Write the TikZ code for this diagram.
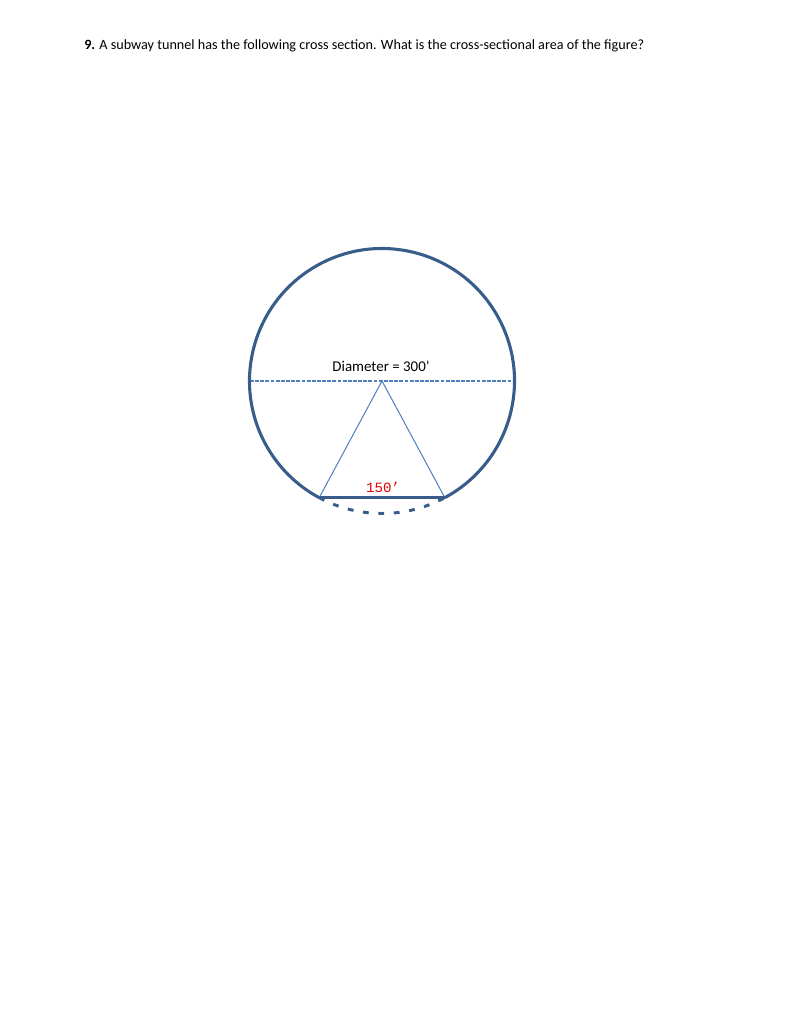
\documentclass[tikz,border=0pt]{standalone}
\usepackage{fontspec}
\setmainfont{Carlito}
\newfontfamily\monofont{Liberation Mono}
\usetikzlibrary{calc}
\definecolor{wallblue}{RGB}{56,93,138}
\definecolor{lineblue}{RGB}{79,129,189}
\definecolor{labelred}{RGB}{230,0,0}

\begin{document}
\begin{tikzpicture}[x=0.027295cm, y=-0.027295cm,
  wall/.style={line width=2.4pt, wallblue},
  floorline/.style={line width=2.3pt, wallblue, dash pattern=on 4.5pt off 7.5pt},
  diam/.style={line width=0.8pt, lineblue, dash pattern=on 3pt off 1pt},
  side/.style={line width=0.8pt, lineblue}]

\useasboundingbox (0,0) rectangle (791,1024);

\node [anchor=west, inner sep=0pt, font=\fontsize{11}{13}\selectfont] (title) at (84,46) {\textbf{9.} A subway tunnel has the following cross section. What is the cross-sectional area of the figure?};

\coordinate (O) at (382,381);
\coordinate (L) at (250,381);
\coordinate (R) at (514,381);
\coordinate (A) at ($(O)+(118.3:132.5)$);
\coordinate (B) at ($(O)+(61.7:132.5)$);

\draw [diam] (L) -- (R);
\draw [side] (A) -- (O) -- (B);
\draw [wall] (B) arc [start angle=61.7, end angle=-241.7, radius=132.5]; %outer wall
\draw [line width=2pt, wallblue] (A) -- (B);
\draw [floorline] (A) arc [start angle=118.3, end angle=61.7, radius=132.5]; %floor

\node [font=\fontsize{11.6}{13}\selectfont] (diamlabel) at (381,366) {Diameter = 300’};
\node [font=\monofont\fontsize{11}{13}\selectfont, labelred] (chordlabel) at (383,487) {150’};

\end{tikzpicture}
\end{document}
